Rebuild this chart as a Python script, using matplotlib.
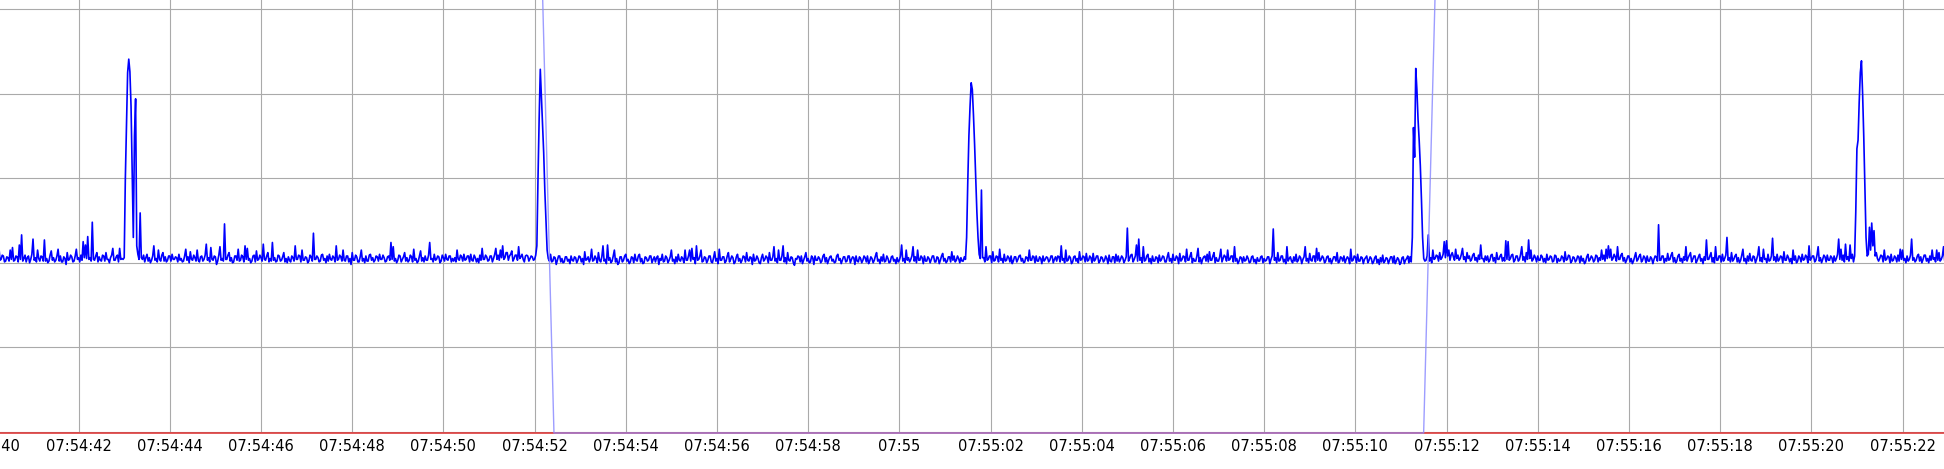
import numpy as np
import matplotlib
matplotlib.use("Agg")
import matplotlib.pyplot as plt
from matplotlib.ticker import MultipleLocator, FuncFormatter, FixedLocator, NullFormatter

# ---- data ----
# signal samples, one row per second (40 samples/s), starting at 07:54:40.25
t_start = 40.25          # seconds after 07:54:00
dt = 0.025
signal = [
    20,3, 4,9, 8,1, 2,7, 6,2, 15,4, 18,2, 3,8, 7,1, 21,4, 33,2, 5,9, 1,6, 8,0, 4,10, 28,3, 6,1, 15,5, 2,8, 7,2,
    27,2, 5,0, 2,9, 14,3, 6,1, 3,8, 16,2, 8,1, 1,7, 5,-2, 12,3, 4,9, 7,1, 2,8, 16,4, 6,1, 9,3, 25,6, 21,5, 31,4,
    6,2, 48,4, 3,8, 12,1, 7,3, 2,9, 8,2, 12,4, 4,0, 6,9, 17,3, 3,7, 9,1, 17,4, 5,4, 6,100, 160,225, 241,226, 185,110, 30,150,
    194,20, 10,4, 59,6, 4,9, 1,6, 10,2, 6,0, 3,8, 20,3, 5,1, 15,4, 2,9, 12,2, 7,1, 3,8, 8,2, 10,4, 4,7, 6,1, 10,3,
    5,1, 2,8, 16,3, 7,0, 13,4, 3,9, 6,2, 15,3, 1,7, 8,2, 4,9, 22,3, 6,1, 18,4, 3,8, 7,-2, 2,9, 19,3, 5,2, 46,4,
    4,9, 12,2, 6,0, 1,8, 8,3, 16,2, 3,9, 7,1, 20,4, 17,3, 5,0, 2,8, 9,1, 14,3, 4,9, 6,2, 22,4, 3,8, 12,1, 5,2,
    24,3, 6,1, 2,9, 8,2, 3,7, 12,1, 5,0, 7,3, 1,8, 6,2, 20,4, 4,9, 8,1, 15,3, 3,7, 6,0, 2,9, 7,2, 35,4, 4,8,
    6,1, 2,9, 10,3, 5,0, 8,2, 10,4, 3,8, 6,1, 20,3, 4,9, 7,2, 15,3, 2,8, 8,1, 5,-2, 12,3, 3,9, 7,1, 1,7, 15,2,
    5,0, 8,2, 2,9, 10,3, 6,1, 3,8, 7,2, 10,4, 4,9, 6,1, 2,7, 8,3, 24,4, 19,2, 5,0, 3,9, 8,1, 4,7, 12,2, 6,1,
    3,9, 7,1, 16,3, 5,0, 2,8, 14,2, 6,1, 8,3, 3,9, 24,4, 5,1, 10,3, 4,8, 7,0, 2,9, 6,2, 10,4, 3,8, 8,1, 5,2,
    6,1, 15,4, 3,9, 7,2, 10,3, 4,8, 8,1, 10,3, 2,9, 6,1, 5,0, 9,3, 17,4, 4,9, 7,2, 3,8, 8,1, 5,10, 17,4, 9,3,
    15,6, 20,4, 6,12, 12,3, 8,10, 14,2, 5,9, 9,3, 19,5, 7,10, 4,1, 8,9, 8,2, 5,8, 7,3, 4,9, 20,100, 170,229, 196,160, 130,85,
    50,15, 5,2, 10,1, 2,7, 6,-2, 3,8, 8,1, 5,0, 1,7, 7,2, 4,-1, 8,3, 2,7, 6,0, 3,8, 7,1, 5,-2, 13,3, 4,7, 1,5,
    16,2, 3,8, 5,0, 12,3, 1,7, 20,2, 4,-1, 21,3, 6,0, 2,8, 15,1, 5,-2, 0,7, 7,1, 3,8, 10,2, 4,-1, 1,7, 6,0, 10,3,
    2,8, 10,1, 5,-1, 0,7, 6,2, 3,8, 8,0, 4,7, 1,6, 8,-2, 5,3, 10,1, 2,8, 6,0, 3,7, 15,2, 4,-1, 7,1, 10,3, 2,7,
    5,0, 15,3, 3,8, 15,2, 17,4, 6,-1, 20,3, 4,8, 15,1, 2,7, 6,0, 3,8, 8,1, 0,6, 13,2, 5,-1, 16,3, 3,7, 7,0, 2,8,
    12,1, 4,8, 6,-1, 1,7, 10,2, 5,0, 3,8, 7,1, 12,3, 2,7, 6,-2, 10,2, 3,8, 5,0, -1,6, 10,2, 4,8, 6,0, 12,3, 3,7,
    19,2, 5,0, 15,3, 3,8, 20,1, 6,-1, 12,3, 2,7, 6,0, -3,5, 4,8, 7,1, 8,-1, 3,7, 12,2, 5,0, 1,8, 6,-2, 8,3, 3,7,
    5,0, 2,8, 10,1, 6,-1, 3,7, 8,2, 4,0, 1,8, 10,3, 5,-1, 3,7, 7,1, 2,8, 8,0, 4,7, 6,-2, 8,2, 1,7, 5,0, 3,8,
    6,1, 8,-1, 2,7, 5,0, 3,8, 12,2, 4,-1, 7,2, 10,1, 2,8, 5,0, 1,7, 8,2, 4,-1, 6,1, 3,8, 21,2, 5,0, 15,3, 6,1,
    4,8, 19,2, 7,0, 15,3, 3,8, 6,-1, 8,2, 2,7, 5,0, 4,8, 8,1, 1,7, 6,-1, 3,8, 11,2, 5,0, 2,7, 7,1, 13,3, 8,1,
    3,8, 5,0, 6,2, 2,7, 4,30, 95,150, 185,213, 205,175, 140,100, 60,30, 10,5, 86,6, 6,1, 19,3, 4,8, 8,0, 13,2, 3,8, 7,1, 16,3,
    5,0, 10,2, 3,8, 6,1, 8,-1, 2,7, 7,1, 4,8, 9,2, 5,0, 1,7, 6,2, 15,3, 3,8, 7,0, 8,2, 2,7, 5,-1, 8,2, 4,7,
    6,1, 3,8, 8,0, 4,7, 2,8, 7,1, 20,3, 5,0, 15,2, 3,8, 6,-1, 1,7, 8,2, 5,0, 13,3, 4,8, 7,1, 11,2, 3,8, 6,0,
    11,2, 4,8, 8,0, 2,7, 6,1, 3,8, 5,-1, 9,2, 1,7, 7,0, 10,2, 8,1, 4,8, 6,0, 3,7, 41,2, 5,9, 10,1, 4,8, 21,2,
    28,3, 6,0, 19,2, 3,8, 10,1, 5,-1, 8,2, 2,7, 6,0, 9,2, 4,8, 7,1, 1,7, 12,2, 5,0, 10,3, 3,8, 6,-1, 11,2, 4,8,
    7,1, 16,3, 3,8, 12,0, 5,2, 2,8, 17,1, 6,-1, 4,7, 8,2, 10,1, 13,3, 3,8, 12,0, 6,2, 2,7, 16,1, 5,9, 7,2, 15,3,
    4,8, 8,1, 19,2, 5,-1, 2,7, 6,0, 7,2, 3,8, 5,0, 1,7, 8,1, 4,-1, 6,2, 2,7, 8,0, 5,2, 3,7, 7,-1, 4,8, 40,3,
    6,0, 12,2, 3,8, 8,1, 4,-1, 19,2, 5,7, 2,0, 7,2, 10,1, 3,8, 6,-1, 4,7, 19,2, 5,0, 11,3, 2,8, 8,1, 17,3, 12,2,
    4,8, 6,0, 2,7, 8,1, 5,-1, 3,7, 7,2, 12,0, 1,7, 6,2, 8,0, 4,7, 5,-1, 16,2, 3,8, 7,0, 10,2, 2,7, 6,-1, 4,6,
    8,0, 3,7, 5,-1, 1,6, 8,0, 4,-2, 6,1, 9,0, 2,6, 5,-1, 3,7, 7,0, 8,-1, 2,6, 4,-2, 0,6, 7,-1, 3,5, 8,0, 7,1,
    30,160, 125,230, 205,170, 145,115, 75,30, 5,2, 3,8, 33,2, 6,0, 15,4, 5,9, 8,2, 12,4, 6,10, 25,6, 26,8, 15,3, 9,12, 7,3, 16,5,
    9,3, 5,10, 17,4, 7,1, 12,5, 8,2, 4,9, 11,3, 6,1, 9,4, 21,5, 5,1, 8,3, 8,1, 3,9, 10,2, 6,0, 12,4, 4,8, 10,2,
    6,2, 26,4, 25,3, 5,9, 10,1, 3,8, 8,2, 4,10, 19,3, 7,1, 12,4, 27,5, 15,2, 4,9, 6,1, 8,3, 3,9, 7,1, 5,0, 10,3,
    4,8, 7,1, 2,9, 8,0, 5,2, 3,8, 6,1, 13,3, 4,9, 8,0, 2,7, 6,1, 3,8, 7,0, 8,2, 5,-1, 1,7, 10,2, 4,8, 6,1,
    3,9, 8,1, 6,3, 15,4, 9,2, 16,5, 20,6, 16,3, 5,10, 7,2, 19,4, 4,9, 11,2, 6,0, 3,8, 8,1, 5,-1, 2,7, 12,2, 4,8,
    10,1, 3,8, 6,0, 8,2, 2,7, 5,-1, 4,8, 7,2, 45,3, 3,8, 8,0, 5,2, 11,3, 4,9, 12,1, 6,0, 2,8, 10,2, 5,0, 7,3,
    19,2, 6,9, 12,1, 4,8, 8,0, 3,7, 10,2, 5,-1, 7,3, 27,4, 4,8, 12,1, 6,0, 19,3, 3,8, 8,1, 10,2, 5,9, 30,3, 6,1,
    12,2, 4,8, 10,1, 6,0, 3,9, 16,2, 5,-1, 8,2, 11,3, 2,8, 7,0, 4,9, 19,2, 6,1, 16,4, 5,0, 10,2, 3,8, 29,3, 7,1,
    10,2, 4,8, 7,0, 13,3, 3,9, 6,1, 5,-1, 15,3, 8,0, 2,8, 6,1, 10,3, 4,9, 7,0, 20,3, 5,8, 8,1, 3,9, 19,2, 6,0,
    4,9, 7,1, 9,3, 3,8, 6,0, 8,2, 5,10, 28,4, 16,3, 9,1, 22,4, 7,2, 21,5, 10,1, 8,60, 135,145, 190,225, 239,200, 150,90, 30,8,
    10,42, 15,47, 20,38, 8,12, 5,2, 5,9, 8,1, 15,3, 4,8, 7,0, 10,2, 3,8, 6,1, 9,2, 16,4, 15,3, 5,0, 8,2, 4,9, 28,3,
    6,1, 3,8, 10,2, 7,0, 4,9, 9,2, 5,0, 8,3, 15,4, 6,1, 15,3, 12,2, 4,8, 19,3, 7,1, 5,9, 8,2, 3,7, 6,1, 4,8,
]
assert len(signal) == 1720, len(signal)

# second (light blue) series
lb_times = [40.25, 52.0, 52.425, 71.498, 71.925, 83.2]
lb_values = [680, 680, -201.5, -201.5, 680, 680]

x_min, x_max = 39.98, 82.91
y_min, y_max = -201.5, 311
grid_y = [-200, -100, 0, 100, 200, 300]

# ---- plot ----
W, H = 1944, 469
fig = plt.figure(figsize=(W / 100, H / 100), dpi=100)
px_per_s = 45.6
left_px = (x_min - 40.276) * px_per_s
right_px = W
ax_h = 433 / H
ax = fig.add_axes([left_px / W, 1 - ax_h, (right_px - left_px) / W, ax_h])

t = t_start + dt * np.arange(len(signal))
ax.plot(t, signal, color="#0000ff", lw=1.2, zorder=3)
ax.plot(lb_times, lb_values, color="#8c8cff", lw=1.0, alpha=0.85,
        zorder=4, clip_on=False)

ax.set_xlim(x_min, x_max)
ax.set_ylim(y_min, y_max)

ax.xaxis.set_major_locator(MultipleLocator(2))


def fmt(s, pos=None):
    total = int(round(s)) + 7 * 3600 + 54 * 60
    h, rem = divmod(total, 3600)
    m, sec = divmod(rem, 60)
    if sec == 0:
        return f"{h:02d}:{m:02d}"
    return f"{h:02d}:{m:02d}:{sec:02d}"


ax.xaxis.set_major_formatter(FuncFormatter(fmt))
ax.yaxis.set_major_locator(FixedLocator(grid_y))
ax.yaxis.set_major_formatter(NullFormatter())
ax.tick_params(axis="both", length=0)
ax.tick_params(axis="x", labelsize=10.5, pad=4, colors="black")
ax.grid(True, color="#aaaaaa", lw=0.8)
ax.set_axisbelow(True)

for s in ["top", "left", "right"]:
    ax.spines[s].set_visible(False)
ax.spines["bottom"].set_color("#dd3a3a")
ax.spines["bottom"].set_linewidth(1.2)

fig.savefig("out.png", dpi=100)
